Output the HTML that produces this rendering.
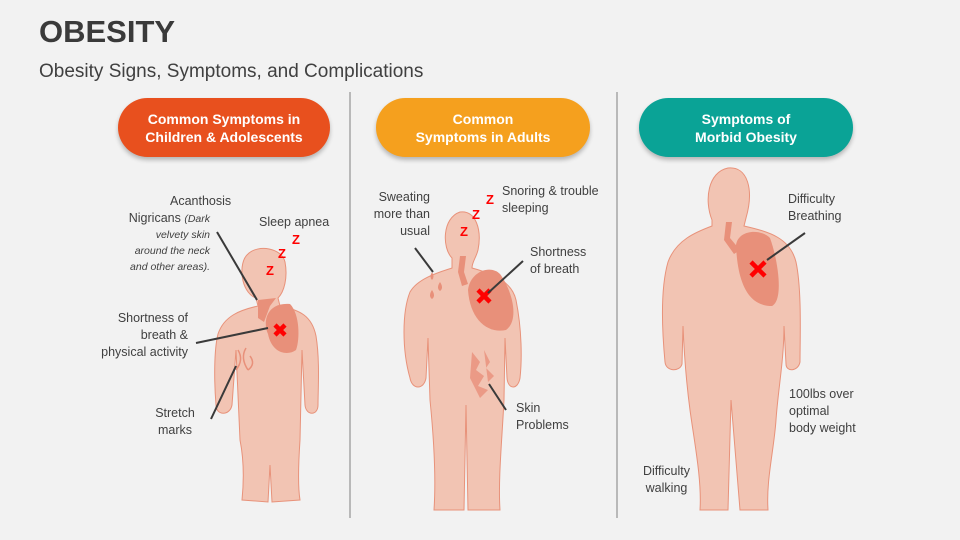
<!DOCTYPE html>
<html><head><meta charset="utf-8"><style>
body{margin:0;width:960px;height:540px;background:#f2f2f2;font-family:"Liberation Sans",Arial,sans-serif;overflow:hidden;position:relative}
.t{position:absolute;color:#404040;font-size:12.5px;line-height:17px}
.pill{position:absolute;height:59px;border-radius:30px;color:#fff;font-weight:bold;font-size:14px;line-height:18px;display:flex;align-items:center;justify-content:center;text-align:center;box-shadow:0 3px 4px rgba(0,0,0,.25)}
</style></head><body>
<div style="position:absolute;left:39px;top:14px;font-size:31px;font-weight:bold;color:#3a3a3a">OBESITY</div>
<div style="position:absolute;left:39px;top:61px;font-size:19px;color:#404040">Obesity Signs, Symptoms, and Complications</div>
<div class="pill" style="left:118px;top:98px;width:212px;background:#e8501e">Common Symptoms in<br>Children &amp; Adolescents</div>
<div class="pill" style="left:376px;top:98px;width:214px;background:#f5a01e">Common<br>Symptoms in Adults</div>
<div class="pill" style="left:639px;top:98px;width:214px;background:#0aa396">Symptoms of<br>Morbid Obesity</div>
<svg width="960" height="540" style="position:absolute;left:0;top:0">
<line x1="350" y1="92" x2="350" y2="518" stroke="#a6a6a6" stroke-width="1.5"/>
<line x1="617" y1="92" x2="617" y2="518" stroke="#a6a6a6" stroke-width="1.5"/>
<g fill="#f2c4b3" stroke="#e8927a" stroke-width="1">
<!-- child -->
<path d="M256,298 C240,292 238,262 248,254 C258,244 282,248 285,262 C288,278 284,292 278,298 L280,306 C300,310 312,316 316,336 C320,360 318,390 318,405 C318,416 306,416 305,405 L302,350 L300,440 C298,470 298,488 300,500 L272,502 L270,465 L268,502 L242,500 C244,480 244,460 240,440 L236,350 L232,405 C230,416 216,416 216,405 C214,380 214,350 218,334 C224,316 240,310 258,306 Z"/>
<!-- adult -->
<path d="M452,258 C442,248 442,218 460,212 C476,210 482,230 478,250 C476,258 472,262 472,268 C494,274 512,282 516,300 C522,330 522,360 520,378 C518,390 508,390 507,378 L505,338 L504,400 C502,440 498,480 500,510 L468,510 L466,405 L464,510 L434,510 C436,480 434,440 430,400 L428,338 L426,378 C424,390 412,390 410,378 C402,350 402,312 410,292 C418,278 440,272 452,268 Z"/>
<!-- morbid -->
<path d="M712,220 C704,200 708,172 728,168 C748,166 754,190 746,218 L744,226 C770,232 790,238 796,262 C802,290 800,340 800,362 C798,372 786,372 786,364 L784,326 C784,360 778,390 776,420 C774,450 766,480 768,510 L740,510 L731,400 L728,510 L700,510 C702,480 694,440 690,410 C686,380 684,350 683,326 L682,364 C680,372 666,372 665,362 C662,330 660,290 668,262 C676,240 696,232 712,226 Z"/>
</g>
<g fill="#e8907a">
<path d="M268,334 C262,320 268,302 290,304 C300,314 300,340 296,350 C288,356 272,354 268,334Z"/>
<path d="M258,300 L276,298 L270,306 L264,322 L258,318Z"/>
<path d="M468,290 C470,272 490,264 500,274 C512,290 520,320 506,330 C488,334 470,320 468,290Z"/>
<path d="M460,256 L466,256 L464,272 L468,284 L462,286 L458,272Z"/>
<path d="M736,245 C738,230 760,228 770,238 C778,260 784,300 772,306 C756,306 738,296 736,245Z"/>
<path d="M726,222 L732,222 L730,238 L740,250 L734,254 L724,240Z"/>
<path d="M432,272 q3,5 0,8 q-3,-3 0,-8Z M440,282 q4,6 0,9 q-4,-3 0,-9Z M432,290 q4,6 0,9 q-4,-3 0,-9Z"/>
<path d="M472,352 l8,10 l-4,8 l8,6 l-6,10 l10,4 l-8,8 l-10,-20Z" opacity=".8"/>
<path d="M484,350 l6,12 l-4,6 l8,8 l-6,6Z" opacity=".8"/>
</g>
<g fill="none" stroke="#e8907a" stroke-width="1.5">
<path d="M238,350 q6,10 -2,20"/><path d="M246,348 q-6,10 2,22"/><path d="M250,356 q6,8 -2,14"/>
</g>
<g stroke="#ff0000" stroke-width="4.5" stroke-linecap="butt">
<path d="M275,325 l10,10 M285,325 l-10,10"/>
<path d="M478,290 l12,12 M490,290 l-12,12"/>
<path d="M751,262 l14,14 M765,262 l-14,14"/>
</g>
<g font-family="Liberation Sans,sans-serif" font-weight="bold" font-size="13" fill="#ff0000">
<text x="266" y="275">Z</text><text x="278" y="258">Z</text><text x="292" y="244">Z</text>
<text x="460" y="236">Z</text><text x="472" y="219">Z</text><text x="486" y="204">Z</text>
</g>
<g stroke="#3a3a3a" stroke-width="2">
<line x1="217" y1="232" x2="257" y2="300"/>
<line x1="196" y1="343" x2="268" y2="328"/>
<line x1="211" y1="419" x2="236" y2="366"/>
<line x1="415" y1="248" x2="433" y2="272"/>
<line x1="523" y1="261" x2="488" y2="293"/>
<line x1="506" y1="410" x2="489" y2="384"/>
<line x1="805" y1="233" x2="767" y2="260"/>
</g>
</svg>
<div class="t" style="left:170px;top:193px;text-align:right;width:40px">Acanthosis</div>
<div class="t" style="left:100px;top:210px;width:110px;text-align:right">Nigricans <i style="font-size:10.5px">(Dark</i></div>
<div class="t" style="left:100px;top:227px;width:110px;text-align:right;font-size:10.5px;font-style:italic;line-height:16px">velvety skin<br>around the neck<br>and other areas).</div>
<div class="t" style="left:259px;top:214px">Sleep apnea</div>
<div class="t" style="left:90px;top:310px;width:98px;text-align:right">Shortness of<br>breath &amp;<br>physical activity</div>
<div class="t" style="left:150px;top:405px;width:50px;text-align:center">Stretch<br>marks</div>
<div class="t" style="left:360px;top:189px;width:70px;text-align:right">Sweating<br>more than<br>usual</div>
<div class="t" style="left:502px;top:183px">Snoring &amp; trouble<br>sleeping</div>
<div class="t" style="left:530px;top:244px">Shortness<br>of breath</div>
<div class="t" style="left:516px;top:400px">Skin<br>Problems</div>
<div class="t" style="left:788px;top:191px">Difficulty<br>Breathing</div>
<div class="t" style="left:789px;top:386px">100lbs over<br>optimal<br>body weight</div>
<div class="t" style="left:643px;top:463px;text-align:center">Difficulty<br>walking</div>
</body></html>
